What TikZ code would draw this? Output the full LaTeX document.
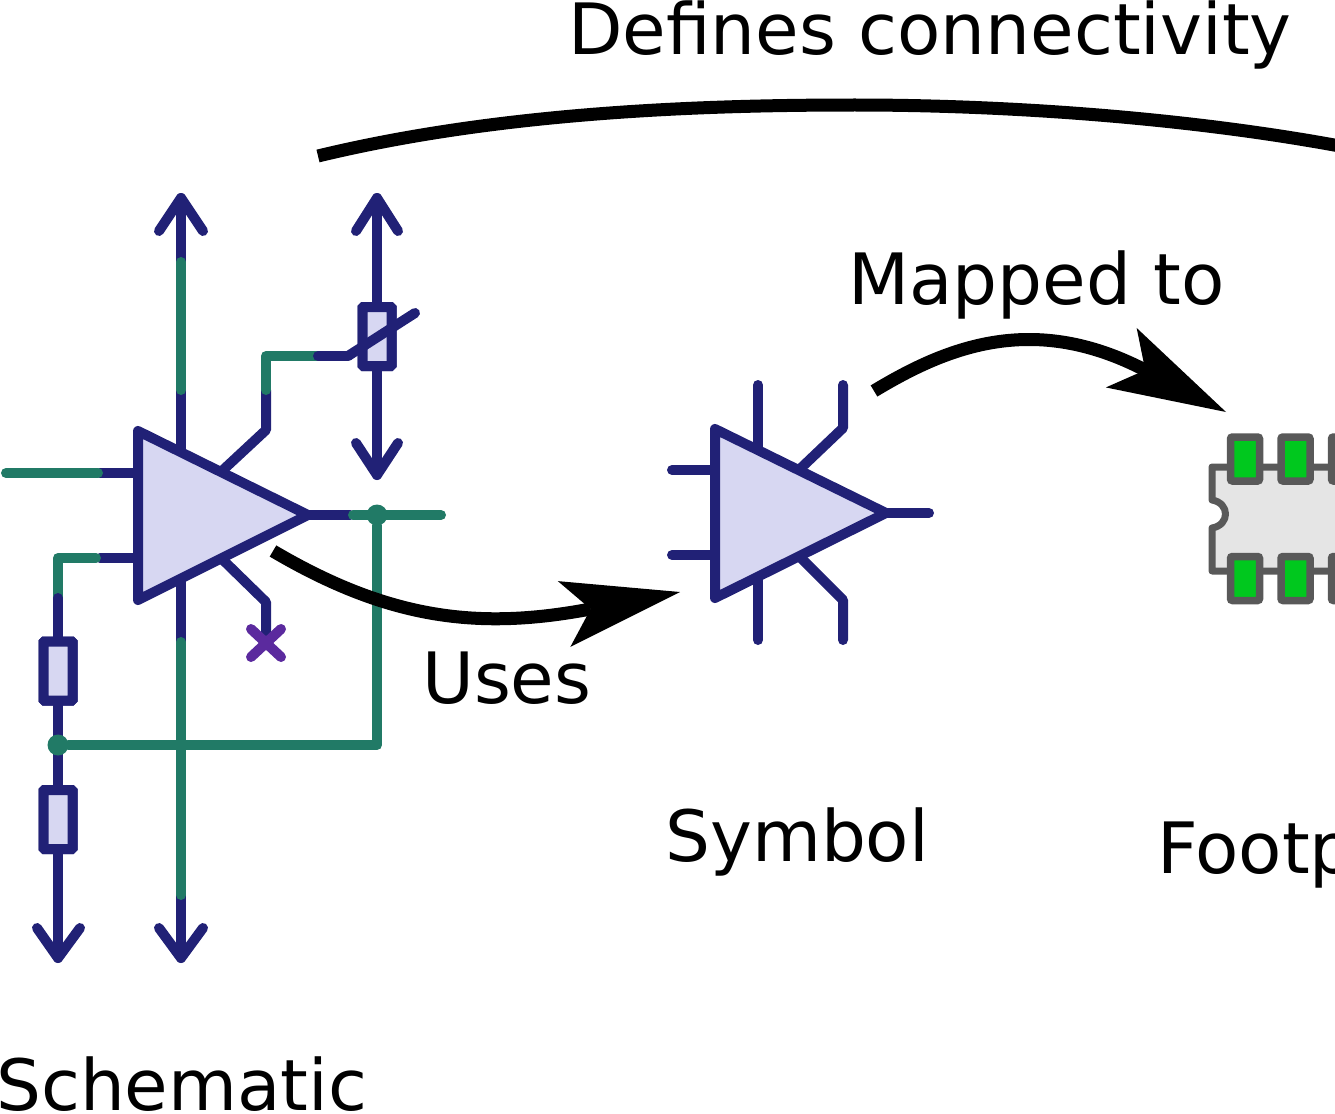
\documentclass[tikz,border=0pt]{standalone}
\usepackage{fontspec}
\setmainfont{DejaVu Sans}
\usetikzlibrary{arrows.meta,chains,scopes}
\definecolor{wirenavy}{HTML}{212176}
\definecolor{wiregreen}{HTML}{217A66}
\definecolor{symbolfill}{HTML}{D7D7F2}
\definecolor{crosspurple}{HTML}{5B2A9E}
\definecolor{fpgray}{HTML}{595959}
\definecolor{fpfill}{HTML}{E5E5E5}
\definecolor{padgreen}{HTML}{00C81E}
\tikzset{
    navy wire/.style = {
        draw = wirenavy,
        line width = 10pt,
        line cap = round,
        line join = round,
        },
    green wire/.style = {
        draw = wiregreen,
        line width = 10pt,
        line cap = round,
        line join = round,
        },
    symbol body/.style = {
        draw = wirenavy,
        fill = symbolfill,
        line width = 10pt,
        line join = round,
        },
    resistor/.style = {
        draw = wirenavy,
        fill = symbolfill,
        line width = 10pt,
        rounded corners = 1pt,
        minimum width = 29pt,
        minimum height = 59pt,
        inner sep = 0pt,
        outer sep = 0pt,
        },
    junction/.style = {
        circle,
        fill = wiregreen,
        minimum size = 21pt,
        inner sep = 0pt,
        outer sep = 0pt,
        },
    padbox/.style = {
        draw = fpgray,
        fill = padgreen,
        line width = 7.5pt,
        rounded corners = 2pt,
        minimum width = 29pt,
        minimum height = 44pt,
        inner sep = 0pt,
        outer sep = 0pt,
        on chain,
        },
    big arrow/.style = {
        line width = 13pt,
        -{Stealth[length=118pt,width=67pt,inset=27pt,line width=0pt]},
        },
    caption/.style = {
        anchor = base west,
        inner sep = 0pt,
        font = \fontsize{70.8}{80}\selectfont,
        }
}
\begin{document}
\begin{tikzpicture}[x=1pt, y=-1pt, node distance = 21.5pt]
    \path[use as bounding box, clip] (0,0) rectangle (1335,1113);

    % schematic, wires first
    \coordinate (in a) at (138,473);
    \coordinate (in b) at (138,558);
    \coordinate (amp top) at (138,431);
    \coordinate (amp bottom) at (138,600);
    \coordinate (amp out) at (308,515);
    \coordinate (gnd tip) at (58,958);
    \coordinate (mid tip top) at (181,198);
    \coordinate (mid tip bottom) at (181,958);
    \coordinate (var tip top) at (377,198);
    \coordinate (var tip bottom) at (377,475);
    \coordinate (no connect) at (266,643);
    \coordinate (out end) at (441,515);

    \node[resistor] (res one) at (58,671) {};
    \node[resistor] (res two) at (58,819.5) {};
    \node[resistor] (res var) at (377,336.5) {};

    \draw[navy wire] (in a) -- (100,473);
    \draw[green wire] (98,473) -- (6,473);
    \draw[navy wire] (in b) -- (100,558);
    \draw[green wire] (96,558) -- (58,558) -- (58,598);
    \draw[navy wire] (58,598) -- (res one.north);
    \draw[navy wire] (res one.south) -- (res two.north);
    \draw[navy wire] (res two.south) -- (gnd tip);
    \draw[navy wire] (37,928) -- (gnd tip) -- (80,928);

    \draw[navy wire] (mid tip top) -- (181,460);
    \draw[navy wire] (159,231) -- (mid tip top) -- (203,231);
    \draw[green wire] (181,262) -- (181,390);
    \draw[navy wire] (181,575) -- (mid tip bottom);
    \draw[navy wire] (159,928) -- (mid tip bottom) -- (203,928);
    \draw[green wire] (181,642) -- (181,895);

    \draw[navy wire] (223,470) -- (266,430) -- (266,390);
    \draw[green wire] (266,390) -- (266,356) -- (318,356);
    \draw[navy wire] (318,356) -- (348,356);
    \draw[navy wire] (223,560) -- (266,602) -- (no connect);
    \draw[crosspurple, line width=10pt, line cap=round] (251,629) -- (281,657);
    \draw[crosspurple, line width=10pt, line cap=round] (281,629) -- (251,657);

    \draw[navy wire] (var tip top) -- (res var.north);
    \draw[navy wire] (356,231) -- (var tip top) -- (398,231);
    \draw[navy wire] (res var.south) -- (var tip bottom);
    \draw[navy wire] (356,443) -- (var tip bottom) -- (398,443);

    \draw[navy wire] (amp out) -- (350,515);
    \draw[symbol body] (amp top) -- (amp out) -- (amp bottom) -- cycle;

    % thermistor slash goes over the body
    \node[resistor] at (res var) {};
    \draw[navy wire] (348,356) -- (415,313);

    \node[resistor] at (res one) {};
    \node[resistor] at (res two) {};

    \node[junction] (jn left) at (58,745) {};
    \node[junction] (jn out) at (377,515) {};
    \draw[green wire] (353,515) -- (out end);
    \draw[green wire] (jn left) -- (377,745) -- (jn out);

    % symbol
    \coordinate (sym top) at (715,429);
    \coordinate (sym bottom) at (715,598);
    \coordinate (sym out) at (886,513);
    \draw[navy wire] (672,470) -- (715,470);
    \draw[navy wire] (672,555) -- (715,555);
    \draw[navy wire] (sym out) -- (929,513);
    \draw[navy wire] (758,450) -- (758,385);
    \draw[navy wire] (801,468) -- (843,428) -- (843,385);
    \draw[navy wire] (758,578) -- (758,640);
    \draw[navy wire] (801,558) -- (843,600) -- (843,640);
    \draw[symbol body] (sym top) -- (sym out) -- (sym bottom) -- cycle;

    % footprint, runs off the page
    \draw[draw=fpgray, fill=fpfill, line width=7pt, line join=round]
        (1400,467) -- (1212,467) -- (1212,500)
        .. controls (1230,503) and (1230,525) .. (1212,528)
        -- (1212,571) -- (1400,571);
    { [start chain = going right]
    \node[padbox] (pad a) at (1245,459) {};
    \node[padbox] (pad b) {};
    \node[padbox] (pad c) {};
    }
    { [start chain = going right]
    \node[padbox] (pad d) at (1245,578.5) {};
    \node[padbox] (pad e) {};
    \node[padbox] (pad f) {};
    }

    % links between the three
    \coordinate (link start) at (318,156);
    \coordinate (link top) at (855,105);
    \coordinate (link end) at (1345,147);
    \draw[line width=13pt] (link start) .. controls (500,112) and (700,105) .. (link top)
        .. controls (1010,105) and (1190,118) .. (link end);
    \coordinate (uses start) at (273,551);
    \coordinate (uses tip) at (680,592);
    \draw[big arrow] (uses start) .. controls (390,620) and (480,630) .. (uses tip);
    \coordinate (mapped start) at (874,391);
    \coordinate (mapped tip) at (1226,412);
    \draw[big arrow] (mapped start) .. controls (950,345) and (1035,313) .. (mapped tip);

    \node[caption] (defines) at (568,55) {Defines connectivity};
    \node[caption] (mapped) at (848,304) {Mapped to};
    \node[caption] (uses) at (422,703) {Uses};
    \node[caption] (symbol) at (665,861) {Symbol};
    \node[caption] (footprint) at (1157,873) {Footp};
    \node[caption] (schematic) at (-4,1110) {Schematic};
\end{tikzpicture}
\end{document}
